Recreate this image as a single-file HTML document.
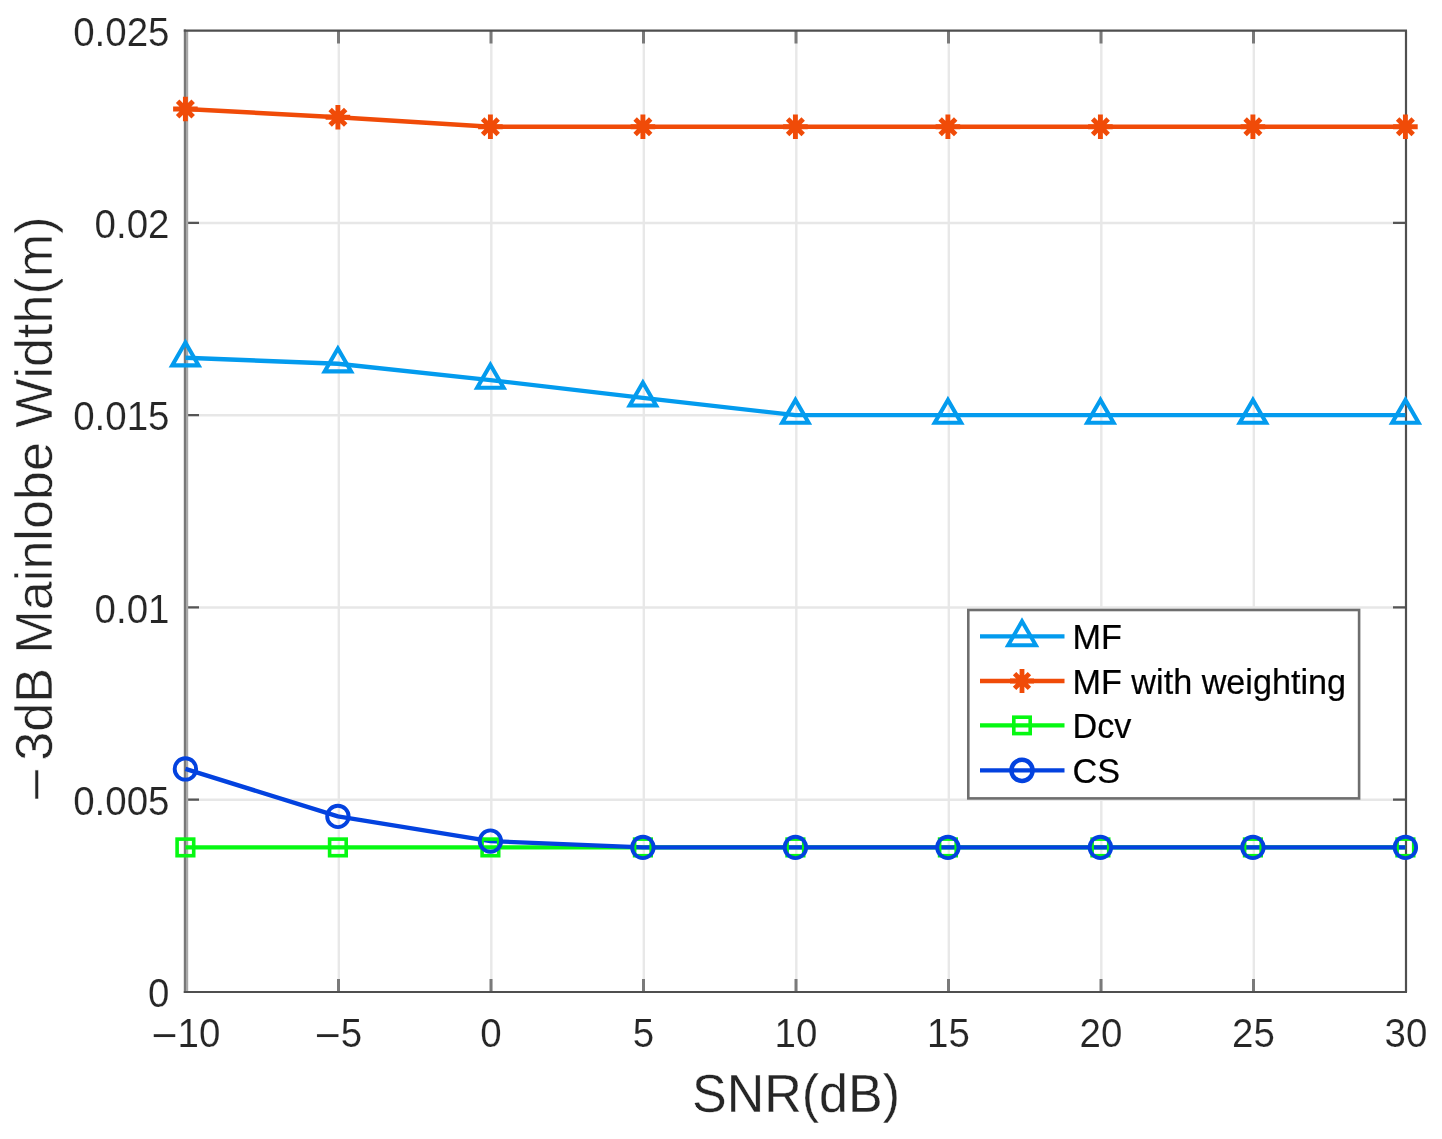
<!DOCTYPE html><html><head><meta charset="utf-8"><title>-3dB Mainlobe Width vs SNR(dB)</title><style>html,body{margin:0;padding:0;background:#fff;}body{width:1442px;height:1139px;overflow:hidden;}svg{display:block;}text{font-family:'Liberation Sans', Arial, Helvetica, sans-serif;}</style></head><body>
<svg width="1442" height="1139" viewBox="0 0 1442 1139">
<rect width="1442" height="1139" fill="#fff"/>
<path d="M338.80,30.6V992.0M491.30,30.6V992.0M643.80,30.6V992.0M796.30,30.6V992.0M948.80,30.6V992.0M1101.30,30.6V992.0M1253.80,30.6V992.0" stroke="#e8e8e8" stroke-width="2.4" fill="none"/>
<path d="M186.0,799.72H1406.0M186.0,607.44H1406.0M186.0,415.16H1406.0M186.0,222.88H1406.0" stroke="#e7e7e7" stroke-width="2.5" fill="none"/>
<path d="M338.50,992.0v-13M338.50,30.6v13M491.00,992.0v-13M491.00,30.6v13M643.50,992.0v-13M643.50,30.6v13M796.00,992.0v-13M796.00,30.6v13M948.50,992.0v-13M948.50,30.6v13M1101.00,992.0v-13M1101.00,30.6v13M1253.50,992.0v-13M1253.50,30.6v13" stroke="#7a7a7a" stroke-width="3" fill="none"/>
<path d="M186.0,799.72h13M1406.0,799.72h-13M186.0,607.44h13M1406.0,607.44h-13M186.0,415.16h13M1406.0,415.16h-13M186.0,222.88h13M1406.0,222.88h-13" stroke="#555" stroke-width="2.2" fill="none"/>
<path d="M184.9,29.6V993.0" stroke="#787878" stroke-width="2.2" fill="none"/>
<path d="M187.1,30.6V992.0" stroke="#a8a8a8" stroke-width="2.2" fill="none"/>
<path d="M183.8,30.60H1407.0M1406.0,30.6V992.0M183.8,992.0H1407.0" stroke="#4f4f4f" stroke-width="2.2" fill="none"/>
<polyline points="185.40,847.41 337.90,847.41 490.40,847.41 642.90,847.41 795.40,847.41 947.90,847.41 1100.40,847.41 1252.90,847.41 1405.40,847.41" fill="none" stroke="#06F812" stroke-width="4.4" stroke-linejoin="round"/>
<polyline points="185.40,109.05 337.90,117.20 490.40,126.74 642.90,126.74 795.40,126.74 947.90,126.74 1100.40,126.74 1252.90,126.74 1405.40,126.74" fill="none" stroke="#F04B08" stroke-width="4.4" stroke-linejoin="round"/>
<polyline points="185.40,357.78 337.90,363.78 490.40,380.09 642.90,397.82 795.40,415.16 947.90,415.16 1100.40,415.16 1252.90,415.16 1405.40,415.16" fill="none" stroke="#039BEE" stroke-width="4.4" stroke-linejoin="round"/>
<polyline points="185.40,768.96 337.90,816.41 490.40,841.10 642.90,847.41 795.40,847.41 947.90,847.41 1100.40,847.41 1252.90,847.41 1405.40,847.41" fill="none" stroke="#0342DF" stroke-width="4.4" stroke-linejoin="round"/>
<rect x="177.10" y="839.11" width="16.60" height="16.60" fill="none" stroke="#06F812" stroke-width="3.6"/>
<rect x="329.60" y="839.11" width="16.60" height="16.60" fill="none" stroke="#06F812" stroke-width="3.6"/>
<rect x="482.10" y="839.11" width="16.60" height="16.60" fill="none" stroke="#06F812" stroke-width="3.6"/>
<rect x="634.60" y="839.11" width="16.60" height="16.60" fill="none" stroke="#06F812" stroke-width="3.6"/>
<rect x="787.10" y="839.11" width="16.60" height="16.60" fill="none" stroke="#06F812" stroke-width="3.6"/>
<rect x="939.60" y="839.11" width="16.60" height="16.60" fill="none" stroke="#06F812" stroke-width="3.6"/>
<rect x="1092.10" y="839.11" width="16.60" height="16.60" fill="none" stroke="#06F812" stroke-width="3.6"/>
<rect x="1244.60" y="839.11" width="16.60" height="16.60" fill="none" stroke="#06F812" stroke-width="3.6"/>
<rect x="1397.10" y="839.11" width="16.60" height="16.60" fill="none" stroke="#06F812" stroke-width="3.6"/>
<path d="M173.10,109.05H197.70M185.40,96.75V121.35M177.62,101.27L193.18,116.83M177.62,116.83L193.18,101.27" stroke="#F04B08" stroke-width="4.9" fill="none"/>
<path d="M325.60,117.20H350.20M337.90,104.90V129.50M330.12,109.42L345.68,124.98M330.12,124.98L345.68,109.42" stroke="#F04B08" stroke-width="4.9" fill="none"/>
<path d="M478.10,126.74H502.70M490.40,114.44V139.04M482.62,118.96L498.18,134.52M482.62,134.52L498.18,118.96" stroke="#F04B08" stroke-width="4.9" fill="none"/>
<path d="M630.60,126.74H655.20M642.90,114.44V139.04M635.12,118.96L650.68,134.52M635.12,134.52L650.68,118.96" stroke="#F04B08" stroke-width="4.9" fill="none"/>
<path d="M783.10,126.74H807.70M795.40,114.44V139.04M787.62,118.96L803.18,134.52M787.62,134.52L803.18,118.96" stroke="#F04B08" stroke-width="4.9" fill="none"/>
<path d="M935.60,126.74H960.20M947.90,114.44V139.04M940.12,118.96L955.68,134.52M940.12,134.52L955.68,118.96" stroke="#F04B08" stroke-width="4.9" fill="none"/>
<path d="M1088.10,126.74H1112.70M1100.40,114.44V139.04M1092.62,118.96L1108.18,134.52M1092.62,134.52L1108.18,118.96" stroke="#F04B08" stroke-width="4.9" fill="none"/>
<path d="M1240.60,126.74H1265.20M1252.90,114.44V139.04M1245.12,118.96L1260.68,134.52M1245.12,134.52L1260.68,118.96" stroke="#F04B08" stroke-width="4.9" fill="none"/>
<path d="M1393.10,126.74H1417.70M1405.40,114.44V139.04M1397.62,118.96L1413.18,134.52M1397.62,134.52L1413.18,118.96" stroke="#F04B08" stroke-width="4.9" fill="none"/>
<polygon points="185.40,342.53 172.19,365.41 198.61,365.41" fill="none" stroke="#039BEE" stroke-width="4.1" stroke-linejoin="miter"/>
<polygon points="337.90,348.53 324.69,371.41 351.11,371.41" fill="none" stroke="#039BEE" stroke-width="4.1" stroke-linejoin="miter"/>
<polygon points="490.40,364.84 477.19,387.71 503.61,387.71" fill="none" stroke="#039BEE" stroke-width="4.1" stroke-linejoin="miter"/>
<polygon points="642.90,382.57 629.69,405.44 656.11,405.44" fill="none" stroke="#039BEE" stroke-width="4.1" stroke-linejoin="miter"/>
<polygon points="795.40,399.91 782.19,422.79 808.61,422.79" fill="none" stroke="#039BEE" stroke-width="4.1" stroke-linejoin="miter"/>
<polygon points="947.90,399.91 934.69,422.79 961.11,422.79" fill="none" stroke="#039BEE" stroke-width="4.1" stroke-linejoin="miter"/>
<polygon points="1100.40,399.91 1087.19,422.79 1113.61,422.79" fill="none" stroke="#039BEE" stroke-width="4.1" stroke-linejoin="miter"/>
<polygon points="1252.90,399.91 1239.69,422.79 1266.11,422.79" fill="none" stroke="#039BEE" stroke-width="4.1" stroke-linejoin="miter"/>
<polygon points="1405.40,399.91 1392.19,422.79 1418.61,422.79" fill="none" stroke="#039BEE" stroke-width="4.1" stroke-linejoin="miter"/>
<circle cx="185.40" cy="768.96" r="10.7" fill="none" stroke="#0342DF" stroke-width="3.9"/>
<circle cx="337.90" cy="816.41" r="10.7" fill="none" stroke="#0342DF" stroke-width="3.9"/>
<circle cx="490.40" cy="841.10" r="10.7" fill="none" stroke="#0342DF" stroke-width="3.9"/>
<circle cx="642.90" cy="847.41" r="10.7" fill="none" stroke="#0342DF" stroke-width="3.9"/>
<circle cx="795.40" cy="847.41" r="10.7" fill="none" stroke="#0342DF" stroke-width="3.9"/>
<circle cx="947.90" cy="847.41" r="10.7" fill="none" stroke="#0342DF" stroke-width="3.9"/>
<circle cx="1100.40" cy="847.41" r="10.7" fill="none" stroke="#0342DF" stroke-width="3.9"/>
<circle cx="1252.90" cy="847.41" r="10.7" fill="none" stroke="#0342DF" stroke-width="3.9"/>
<circle cx="1405.40" cy="847.41" r="10.7" fill="none" stroke="#0342DF" stroke-width="3.9"/>
<text transform="translate(186.00,1047.00) scale(1,1.04)" font-size="38.5" fill="#262626" stroke="#fff" stroke-width="0.15" text-anchor="middle"><tspan dy="2.3" textLength="26" lengthAdjust="spacingAndGlyphs">−</tspan><tspan dy="-2.3">10</tspan></text>
<text transform="translate(338.50,1047.00) scale(1,1.04)" font-size="38.5" fill="#262626" stroke="#fff" stroke-width="0.15" text-anchor="middle"><tspan dy="2.3" textLength="26" lengthAdjust="spacingAndGlyphs">−</tspan><tspan dy="-2.3">5</tspan></text>
<text transform="translate(491.00,1047.00) scale(1,1.04)" font-size="38.5" fill="#262626" stroke="#fff" stroke-width="0.15" text-anchor="middle">0</text>
<text transform="translate(643.50,1047.00) scale(1,1.04)" font-size="38.5" fill="#262626" stroke="#fff" stroke-width="0.15" text-anchor="middle">5</text>
<text transform="translate(796.00,1047.00) scale(1,1.04)" font-size="38.5" fill="#262626" stroke="#fff" stroke-width="0.15" text-anchor="middle">10</text>
<text transform="translate(948.50,1047.00) scale(1,1.04)" font-size="38.5" fill="#262626" stroke="#fff" stroke-width="0.15" text-anchor="middle">15</text>
<text transform="translate(1101.00,1047.00) scale(1,1.04)" font-size="38.5" fill="#262626" stroke="#fff" stroke-width="0.15" text-anchor="middle">20</text>
<text transform="translate(1253.50,1047.00) scale(1,1.04)" font-size="38.5" fill="#262626" stroke="#fff" stroke-width="0.15" text-anchor="middle">25</text>
<text transform="translate(1406.00,1047.00) scale(1,1.04)" font-size="38.5" fill="#262626" stroke="#fff" stroke-width="0.15" text-anchor="middle">30</text>
<text transform="translate(169.50,1007.20) scale(1,1.04)" font-size="38.5" fill="#262626" stroke="#fff" stroke-width="0.15" text-anchor="end">0</text>
<text transform="translate(169.50,814.92) scale(1,1.04)" font-size="38.5" fill="#262626" stroke="#fff" stroke-width="0.15" text-anchor="end">0.005</text>
<text transform="translate(169.50,622.64) scale(1,1.04)" font-size="38.5" fill="#262626" stroke="#fff" stroke-width="0.15" text-anchor="end">0.01</text>
<text transform="translate(169.50,430.36) scale(1,1.04)" font-size="38.5" fill="#262626" stroke="#fff" stroke-width="0.15" text-anchor="end">0.015</text>
<text transform="translate(169.50,238.08) scale(1,1.04)" font-size="38.5" fill="#262626" stroke="#fff" stroke-width="0.15" text-anchor="end">0.02</text>
<text transform="translate(169.50,45.80) scale(1,1.04)" font-size="38.5" fill="#262626" stroke="#fff" stroke-width="0.15" text-anchor="end">0.025</text>
<text transform="translate(796.00,1111.50) scale(1,1.04)" font-size="52" fill="#262626" stroke="#fff" stroke-width="0.3" text-anchor="middle">SNR(dB)</text>
<text transform="translate(52.00,802.00) rotate(-90)" font-size="52.1" fill="#262626" stroke="#fff" stroke-width="0.55" text-anchor="start"><tspan dy="2.3" textLength="35" lengthAdjust="spacingAndGlyphs">−</tspan><tspan dy="-2.3" dx="6.3">3dB Mainlobe Width(m)</tspan></text>
<rect x="968.3" y="610.0" width="390.8" height="188.4" fill="#fff" stroke="#6e6e6e" stroke-width="2.6"/>
<path d="M980,636.4H1064.5" stroke="#039BEE" stroke-width="4.4" fill="none"/>
<polygon points="1022.00,621.30 1008.14,645.30 1035.86,645.30" fill="none" stroke="#039BEE" stroke-width="4.0" stroke-linejoin="miter"/>
<text transform="translate(1072.50,649.20) scale(1,1.04)" font-size="34.2" fill="#000" stroke="#000" stroke-width="0.2" text-anchor="start">MF</text>
<path d="M980,681.0H1064.5" stroke="#F04B08" stroke-width="4.4" fill="none"/>
<path d="M1010.00,681.00H1034.00M1022.00,669.00V693.00M1014.58,673.58L1029.42,688.42M1014.58,688.42L1029.42,673.58" stroke="#F04B08" stroke-width="4.8" fill="none"/>
<text transform="translate(1072.50,693.80) scale(1,1.04)" font-size="34.2" fill="#000" stroke="#000" stroke-width="0.2" text-anchor="start">MF with weighting</text>
<path d="M980,725.4H1064.5" stroke="#06F812" stroke-width="4.4" fill="none"/>
<rect x="1013.80" y="717.20" width="16.40" height="16.40" fill="none" stroke="#06F812" stroke-width="3.6"/>
<text transform="translate(1072.50,738.20) scale(1,1.04)" font-size="34.2" fill="#000" stroke="#000" stroke-width="0.2" text-anchor="start">Dcv</text>
<path d="M980,770.4H1064.5" stroke="#0342DF" stroke-width="4.4" fill="none"/>
<circle cx="1022.00" cy="770.40" r="10.6" fill="none" stroke="#0342DF" stroke-width="4.4"/>
<text transform="translate(1072.50,783.20) scale(1,1.04)" font-size="34.2" fill="#000" stroke="#000" stroke-width="0.2" text-anchor="start">CS</text>
</svg></body></html>
